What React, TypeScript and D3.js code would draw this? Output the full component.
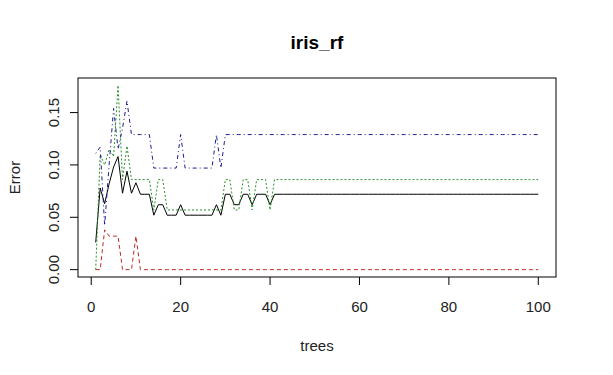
import React from 'react';
import * as d3 from 'd3';

// error rates per number of trees (trees 1..41; flat afterwards)
const oobHead = [0.026, 0.078, 0.063, 0.082, 0.098, 0.108, 0.073, 0.094, 0.073, 0.083,
  0.072, 0.072, 0.072, 0.052, 0.062, 0.062, 0.052, 0.052, 0.052, 0.062,
  0.052, 0.052, 0.052, 0.052, 0.052, 0.052, 0.052, 0.062, 0.052, 0.072,
  0.072, 0.062, 0.062, 0.072, 0.072, 0.062, 0.072, 0.072, 0.072, 0.062, 0.072];
const setosaHead = [0, 0, 0.038, 0.032, 0.032, 0.032, 0, 0, 0, 0.032, 0];
const versicolorHead = [0, 0.11, 0.10, 0.115, 0.108, 0.176, 0.086, 0.118, 0.086, 0.086,
  0.086, 0.086, 0.086, 0.057, 0.086, 0.086, 0.057, 0.057, 0.057, 0.057,
  0.057, 0.057, 0.057, 0.057, 0.057, 0.057, 0.057, 0.057, 0.057, 0.086,
  0.086, 0.057, 0.057, 0.086, 0.086, 0.057, 0.086, 0.086, 0.086, 0.057, 0.086];
const virginicaHead = [0.111, 0.117, 0.042, 0.10, 0.154, 0.115, 0.135, 0.161, 0.129, 0.129,
  0.129, 0.129, 0.129, 0.097, 0.097, 0.097, 0.097, 0.097, 0.097, 0.129,
  0.097, 0.097, 0.097, 0.097, 0.097, 0.097, 0.097, 0.129, 0.097, 0.129];

const ntree = 100;
const xTicks = [0, 20, 40, 60, 80, 100];
const yTicks = [0, 0.05, 0.1, 0.15];

// pad a series with its last value out to ntree
function fill(head: number[]): number[] {
  const out = head.slice();
  while (out.length < ntree) out.push(head[head.length - 1]);
  return out;
}

const series = [
  { name: 'OOB', values: fill(oobHead), color: '#000000', dash: '' },
  { name: 'setosa', values: fill(setosaHead), color: '#c02b2b', dash: '4,3' },
  { name: 'versicolor', values: fill(versicolorHead), color: '#2a8f2a', dash: '2,2' },
  { name: 'virginica', values: fill(virginicaHead), color: '#1c1c8f', dash: '1,3,4,3' },
];

export default function App() {
  const width = 613;
  const height = 375;
  const left = 78, right = 556, top = 78, bottom = 277;

  const allVals = series.flatMap((s) => s.values);
  const yMin = d3.min(allVals) as number;
  const yMax = d3.max(allVals) as number;
  const yPad = (yMax - yMin) * 0.04;
  const xPad = (ntree - 1) * 0.04;

  const x = d3.scaleLinear().domain([1 - xPad, ntree + xPad]).range([left, right]);
  const y = d3.scaleLinear().domain([yMin - yPad, yMax + yPad]).range([bottom, top]);

  const line = d3
    .line<number>()
    .x((d, i) => x(i + 1))
    .y((d) => y(d));

  const font = 'Liberation Sans, Arial, sans-serif';

  return (
    <svg width={width} height={height} style={{ position: 'absolute', left: 0, top: 0, background: '#fff' }}
      fontFamily={font}>
      <rect x={0} y={0} width={width} height={height} fill="#fff" />
      <text x={(left + right) / 2} y={49} textAnchor="middle" fontSize={19} fontWeight="bold">iris_rf</text>

      {/* series */}
      {series.map((s) => (
        <path key={s.name} d={line(s.values) || ''} fill="none" stroke={s.color}
          strokeWidth={1} strokeDasharray={s.dash || undefined} />
      ))}

      <rect x={left} y={top} width={right - left} height={bottom - top} fill="none" stroke="#000" strokeWidth={1} />

      {/* x axis */}
      {xTicks.map((t) => (
        <g key={t}>
          <line x1={x(t)} x2={x(t)} y1={bottom} y2={bottom + 8} stroke="#000" />
          <text x={x(t)} y={312} textAnchor="middle" fontSize={15} fill="#222">{t}</text>
        </g>
      ))}
      <text x={(left + right) / 2} y={351} textAnchor="middle" fontSize={15} fill="#222">trees</text>

      {/* y axis */}
      {yTicks.map((t) => (
        <g key={t}>
          <line x1={left - 8} x2={left} y1={y(t)} y2={y(t)} stroke="#000" />
          <text transform={`translate(${59},${y(t)}) rotate(-90)`} textAnchor="middle" fontSize={15} fill="#222">
            {t.toFixed(2)}
          </text>
        </g>
      ))}
      <text transform={`translate(${20},${(top + bottom) / 2}) rotate(-90)`} textAnchor="middle" fontSize={15} fill="#222">Error</text>
    </svg>
  );
}
